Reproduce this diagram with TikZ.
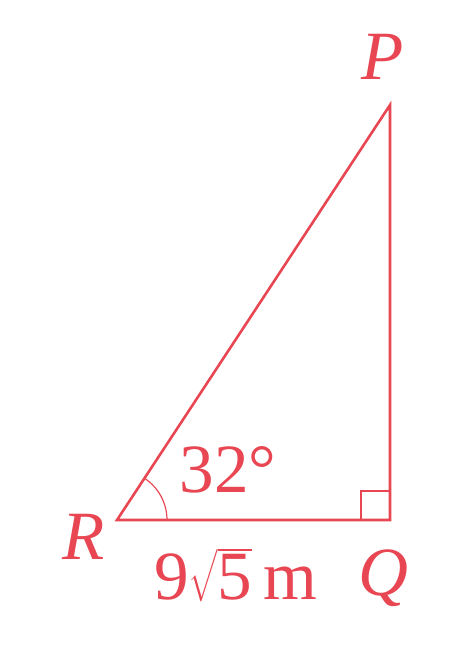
\documentclass[tikz,border=0pt]{standalone}
\usepackage{amsmath}
\usepackage{fontspec}
\setmainfont{Liberation Serif}
\usepackage{xcolor}
\definecolor{trired}{RGB}{232,70,82}
\usetikzlibrary{positioning,calc}

\begin{document}
\begin{tikzpicture}[
			x=0.03cm, y=-0.03cm,
			side/.style={draw=trired, line width=2.2pt, line join=miter},
			thinline/.style={draw=trired, line width=1pt},
			lbl/.style={text=trired, inner sep=0pt, font=\fontsize{59}{64}\selectfont}
			]
			\useasboundingbox (0,0) rectangle (474,652);
			% vertices
			\coordinate (R) at (117,520);
			\coordinate (Q) at (390,520);
			\coordinate (P) at (390,105);
			\draw[side] (R) -- (Q) -- (P) -- cycle;
			% angle and right angle
			\draw[thinline] ($(R)+(50,0)$) arc[start angle=0, end angle=-56.7, radius=50];
			\draw[thinline] ($(Q)+(-29,0)$) -- ++(0,-29) -- ++(29,0);
			% labels
			\node[lbl] (labP) at (383,57) {\textit{P}};
			\node[lbl] (labR) at (84,537) {\textit{R}};
			\node[lbl] (labQ) at (383,578) {\textit{Q}};
			\node[lbl] (ang) at (228,470) {32°};
			\node[lbl] (base) at (236,575) {9$\sqrt{\text{5}}$\,m};
		\end{tikzpicture}
\end{document}
